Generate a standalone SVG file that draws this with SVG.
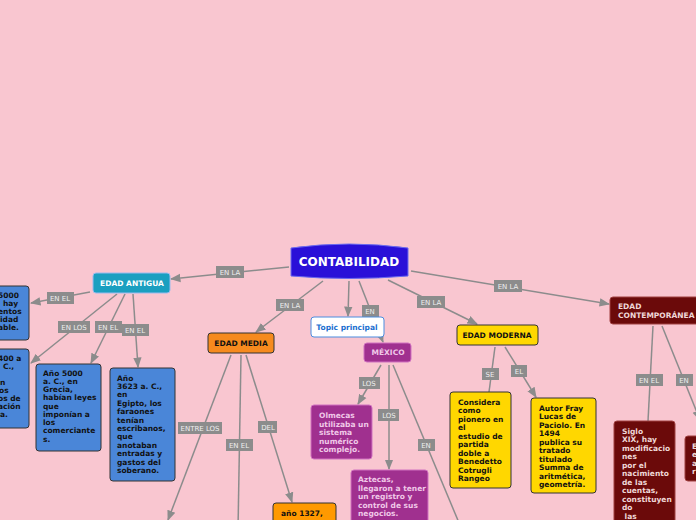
<svg xmlns="http://www.w3.org/2000/svg" width="696" height="520" viewBox="0 0 696 520">
<defs>
<marker id="a" viewBox="0 0 10 10" refX="9" refY="5" markerWidth="7" markerHeight="7" orient="auto"><path d="M0,1 L10,5 L0,9 z" fill="#8c8c8c"/></marker>
<style>
text{font-family:"DejaVu Sans",sans-serif;font-weight:bold;font-size:7.5px}
.c line{stroke:#8c8c8c;stroke-width:1.5;marker-end:url(#a)}
.l rect{fill:#8c8c8c}
.l text{fill:#eee;font-weight:normal;font-size:7px;text-anchor:middle}
.bl{fill:#4a86d8;stroke:#333;stroke-width:1}
.pu{fill:#a0308f;stroke:#d070c0;stroke-width:1}
.ye{fill:#ffd700;stroke:#333;stroke-width:1}
.dr{fill:#6b0a0a;stroke:#a04040;stroke-width:1}
.bk{fill:#111}.wt{fill:#fff}.pk{fill:#f0c8e8}.lt{fill:#f0d8d8}
</style>
</defs>
<rect width="696" height="520" fill="#f9c6d0"/>
<g class="c">
<line x1="289" y1="267" x2="171" y2="279"/>
<line x1="90" y1="292" x2="31" y2="303"/>
<line x1="117" y1="294" x2="31" y2="363"/>
<line x1="125" y1="294" x2="91" y2="363"/>
<line x1="133" y1="294" x2="138" y2="367"/>
<line x1="323" y1="281" x2="256" y2="332"/>
<line x1="349" y1="281" x2="348" y2="316"/>
<line x1="359" y1="281" x2="383" y2="342"/>
<line x1="388" y1="280" x2="477" y2="324"/>
<line x1="411" y1="271" x2="609" y2="304"/>
<line x1="231" y1="355" x2="168" y2="520"/>
<line x1="241" y1="355" x2="238" y2="530"/>
<line x1="246" y1="355" x2="292" y2="502"/>
<line x1="381" y1="365" x2="358" y2="404"/>
<line x1="389" y1="365" x2="389" y2="469"/>
<line x1="393" y1="365" x2="462" y2="530"/>
<line x1="495" y1="347" x2="489" y2="392" style="marker-end:none"/>
<line x1="505" y1="347" x2="536" y2="397"/>
<line x1="653" y1="326" x2="648" y2="421" style="marker-end:none"/>
<line x1="662" y1="326" x2="700" y2="420"/>
</g>
<g class="l">
<rect x="216" y="266" width="28" height="12"/><text x="230" y="275">EN LA</text>
<rect x="47" y="292" width="27" height="12"/><text x="60" y="301">EN EL</text>
<rect x="58" y="321" width="32" height="12"/><text x="74" y="330">EN LOS</text>
<rect x="95" y="321" width="27" height="12"/><text x="108" y="330">EN EL</text>
<rect x="122" y="324" width="27" height="12"/><text x="135" y="333">EN EL</text>
<rect x="276" y="299" width="28" height="12"/><text x="290" y="308">EN LA</text>
<rect x="362" y="305" width="17" height="12"/><text x="370" y="314">EN</text>
<rect x="417" y="296" width="28" height="12"/><text x="431" y="305">EN LA</text>
<rect x="494" y="280" width="28" height="12"/><text x="508" y="289">EN LA</text>
<rect x="178" y="422" width="44" height="12"/><text x="200" y="431">ENTRE LOS</text>
<rect x="226" y="439" width="27" height="12"/><text x="239" y="448">EN EL</text>
<rect x="258" y="421" width="19" height="12"/><text x="268" y="430">DEL</text>
<rect x="359" y="377" width="21" height="12"/><text x="369" y="386">LOS</text>
<rect x="378" y="409" width="21" height="12"/><text x="389" y="418">LOS</text>
<rect x="418" y="439" width="17" height="12"/><text x="426" y="448">EN</text>
<rect x="482" y="368" width="17" height="12"/><text x="490" y="377">SE</text>
<rect x="511" y="365" width="16" height="12"/><text x="519" y="374">EL</text>
<rect x="636" y="374" width="27" height="12"/><text x="649" y="383">EN EL</text>
<rect x="676" y="374" width="17" height="12"/><text x="684" y="383">EN</text>
</g>
<g id="contabilidad"><path d="M291,248 Q349,240 408,248 L408,276 Q349,281 291,276 z" fill="#2a10d8" stroke="#6a6af0"/><text x="349" y="266" class="wt" style="font-size:12px" text-anchor="middle">CONTABILIDAD</text></g>
<g id="antigua"><rect x="93" y="273" width="77" height="20" rx="3" fill="#1a9fc0" stroke="#9be"/><text x="132" y="286" class="wt" text-anchor="middle">EDAD ANTIGUA</text></g>
<g id="b1"><rect x="-10" y="286" width="39" height="54" rx="3" class="bl"/><text class="bk"><tspan x="-2" y="298">5000</tspan><tspan x="3" y="306">hay</tspan><tspan x="-2" y="314">entos</tspan><tspan x="0" y="322">idad</tspan><tspan x="-2" y="330">able.</tspan></text></g>
<g id="b2"><rect x="-10" y="349" width="39" height="79" rx="3" class="bl"/><text class="bk"><tspan x="-2" y="361">400 a</tspan><tspan x="3" y="369">C.,</tspan><tspan x="0" y="385">n</tspan><tspan x="-1" y="393">os</tspan><tspan x="-2" y="401">os de</tspan><tspan x="-2" y="409">ación</tspan><tspan x="0" y="417">a.</tspan></text></g>
<g id="b3"><rect x="36" y="364" width="65" height="87" rx="3" class="bl"/><text class="bk"><tspan x="43" y="376">Año 5000</tspan><tspan x="43" y="384">a. C., en</tspan><tspan x="43" y="392">Grecia,</tspan><tspan x="43" y="400">habían leyes</tspan><tspan x="43" y="409">que</tspan><tspan x="43" y="417">imponían a</tspan><tspan x="43" y="425">los</tspan><tspan x="43" y="433">comerciante</tspan><tspan x="43" y="442">s.</tspan></text></g>
<g id="b4"><rect x="110" y="368" width="65" height="113" rx="3" class="bl"/><text class="bk"><tspan x="117" y="381">Año</tspan><tspan x="117" y="389">3623 a. C.,</tspan><tspan x="117" y="397">en</tspan><tspan x="117" y="406">Egipto, los</tspan><tspan x="117" y="414">faraones</tspan><tspan x="117" y="423">tenían</tspan><tspan x="117" y="431">escribanos,</tspan><tspan x="117" y="439">que</tspan><tspan x="117" y="448">anotaban</tspan><tspan x="117" y="456">entradas y</tspan><tspan x="117" y="465">gastos del</tspan><tspan x="117" y="473">soberano.</tspan></text></g>
<g id="media"><rect x="208" y="333" width="66" height="20" rx="3" fill="#f68a1e" stroke="#333"/><text x="241" y="346" class="bk" text-anchor="middle">EDAD MEDIA</text></g>
<g id="a1327"><rect x="273" y="503" width="63" height="25" rx="3" fill="#ff9900" stroke="#333"/><text x="281" y="516" class="bk">año 1327,</text></g>
<g id="topic"><rect x="311" y="317" width="73" height="20" rx="3" fill="#fff" stroke="#4a8de0"/><text x="347" y="330" fill="#1a6fd0" text-anchor="middle">Topic principal</text></g>
<g id="mexico"><rect x="364" y="343" width="47" height="19" rx="3" fill="#a0308f" stroke="#d070c0"/><text x="388" y="355" class="pk" text-anchor="middle">MÉXICO</text></g>
<g id="olmecas"><rect x="311" y="405" width="61" height="54" rx="3" class="pu"/><text class="pk"><tspan x="319" y="418">Olmecas</tspan><tspan x="319" y="427">utilizaba un</tspan><tspan x="319" y="435">sistema</tspan><tspan x="319" y="444">numérico</tspan><tspan x="319" y="452">complejo.</tspan></text></g>
<g id="aztecas"><rect x="351" y="470" width="77" height="56" rx="3" class="pu"/><text class="pk"><tspan x="358" y="482">Aztecas,</tspan><tspan x="358" y="491">llegaron a tener</tspan><tspan x="358" y="499">un registro y</tspan><tspan x="358" y="508">control de sus</tspan><tspan x="358" y="516">negocios.</tspan></text></g>
<g id="moderna"><rect x="457" y="325" width="81" height="20" rx="3" class="ye"/><text x="497" y="338" class="bk" text-anchor="middle">EDAD MODERNA</text></g>
<g id="considera"><rect x="450" y="392" width="61" height="96" rx="3" class="ye"/><text class="bk"><tspan x="458" y="405">Considera</tspan><tspan x="458" y="413">como</tspan><tspan x="458" y="422">pionero en</tspan><tspan x="458" y="430">el</tspan><tspan x="458" y="439">estudio de</tspan><tspan x="458" y="447">partida</tspan><tspan x="458" y="456">doble a</tspan><tspan x="458" y="464">Benedetto</tspan><tspan x="458" y="473">Cotrugli</tspan><tspan x="458" y="481">Rangeo</tspan></text></g>
<g id="autor"><rect x="531" y="398" width="65" height="95" rx="3" class="ye"/><text class="bk"><tspan x="539" y="411">Autor Fray</tspan><tspan x="539" y="419">Lucas de</tspan><tspan x="539" y="428">Paciolo. En</tspan><tspan x="539" y="436">1494</tspan><tspan x="539" y="445">publica su</tspan><tspan x="539" y="453">tratado</tspan><tspan x="539" y="462">titulado</tspan><tspan x="539" y="470">Summa de</tspan><tspan x="539" y="479">aritmética,</tspan><tspan x="539" y="487">geometría.</tspan></text></g>
<g id="contemp"><rect x="610" y="297" width="95" height="27" rx="3" class="dr"/><text class="lt"><tspan x="618" y="309">EDAD</tspan><tspan x="618" y="318">CONTEMPORÁNEA</tspan></text></g>
<g id="siglo"><rect x="614" y="421" width="61" height="110" rx="3" class="dr"/><text class="lt"><tspan x="622" y="434">Siglo</tspan><tspan x="622" y="442">XIX, hay</tspan><tspan x="622" y="451">modificacio</tspan><tspan x="622" y="459">nes</tspan><tspan x="622" y="468">por el</tspan><tspan x="622" y="476">nacimiento</tspan><tspan x="622" y="485">de las</tspan><tspan x="622" y="493">cuentas,</tspan><tspan x="622" y="502">constituyen</tspan><tspan x="622" y="510">do</tspan><tspan x="622" y="519"> las</tspan></text></g>
<g id="b5"><rect x="685" y="436" width="20" height="45" rx="3" class="dr"/><text class="lt"><tspan x="692" y="449">E</tspan><tspan x="692" y="457">e</tspan><tspan x="692" y="466">a</tspan><tspan x="692" y="474">r</tspan></text></g>
</svg>
